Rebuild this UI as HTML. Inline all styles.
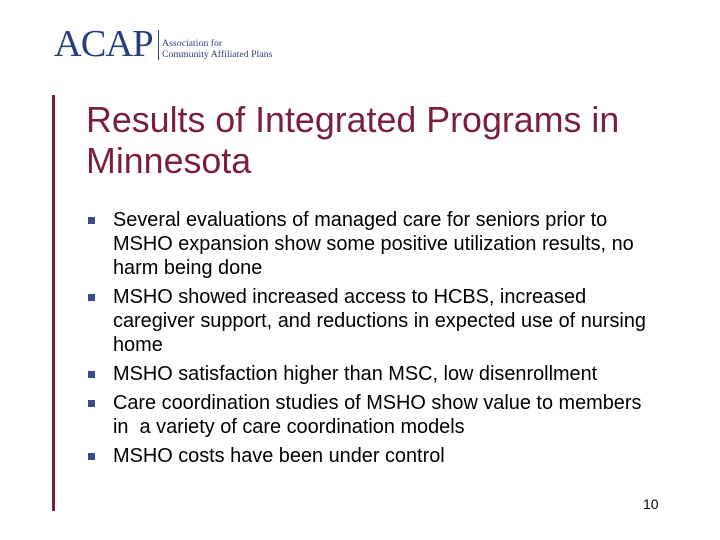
<!DOCTYPE html>
<html><head><meta charset="utf-8"><style>
body{margin:0;width:720px;height:540px;background:#fff;position:relative;overflow:hidden;font-family:"Liberation Sans",sans-serif}
.abs{position:absolute}
#logo-acap{left:54px;top:22px;font-family:"Liberation Serif",serif;font-size:38.5px;color:#2a3f7e;letter-spacing:-1px;line-height:44px}
#logo-bar{left:158px;top:30px;width:1px;height:30px;background:#2a3f7e}
#logo-sub{left:162px;top:38px;font-family:"Liberation Serif",serif;font-size:9.8px;color:#2a3f7e;line-height:11px}
#vline{left:52px;top:95px;width:3px;height:416px;background:#7a1f40}
#title{left:86px;top:100px;font-size:35.8px;line-height:41px;color:#7a1f40;white-space:nowrap}
ul{position:absolute;left:86px;top:208px;margin:0;padding:0;list-style:none;width:620px}
li{position:relative;padding-left:27px;font-size:19.9px;line-height:24px;color:#000;margin-bottom:5px;white-space:nowrap}
li:before{content:"";position:absolute;left:2px;top:9px;width:7px;height:7px;background:#3b4a8c}
#pagenum{left:643px;top:496px;font-size:14px;color:#000}
</style></head><body>
<div class="abs" id="logo-acap">ACAP</div>
<div class="abs" id="logo-bar"></div>
<div class="abs" id="logo-sub">Association for<br>Community Affiliated Plans</div>
<div class="abs" id="vline"></div>
<div class="abs" id="title">Results of Integrated Programs in<br>Minnesota</div>
<ul>
<li>Several evaluations of managed care for seniors prior to<br>MSHO expansion show some positive utilization results, no<br>harm being done</li>
<li>MSHO showed increased access to HCBS, increased<br>caregiver support, and reductions in expected use of nursing<br>home</li>
<li>MSHO satisfaction higher than MSC, low disenrollment</li>
<li>Care coordination studies of MSHO show value to members<br>in &nbsp;a variety of care coordination models</li>
<li>MSHO costs have been under control</li>
</ul>
<div class="abs" id="pagenum">10</div>
</body></html>
